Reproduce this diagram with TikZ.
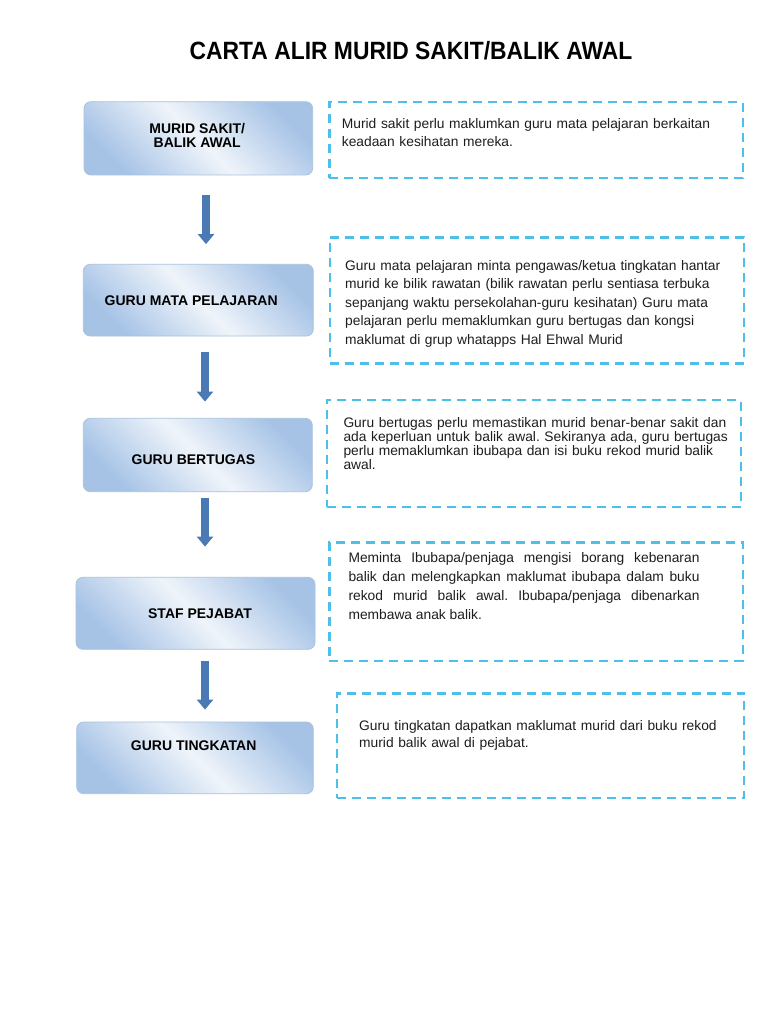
\documentclass[tikz,border=0pt]{standalone}
\usepackage{fontspec}
\usepackage{graphicx}
\setmainfont{Liberation Sans}
\usetikzlibrary{arrows.meta}
\frenchspacing
\definecolor{edgeblue}{HTML}{A6C3E6}
\definecolor{midwhite}{HTML}{EFF4FA}
\definecolor{boxline}{HTML}{A9C2DD}
\definecolor{dashcyan}{HTML}{4EBFEA}
\definecolor{arrowblue}{HTML}{4A7AB4}
\definecolor{bodytext}{HTML}{1E1E1E}
\pgfdeclarehorizontalshading{flowshade}{100bp}{color(0bp)=(edgeblue); color(25bp)=(edgeblue); color(50bp)=(midwhite); color(75bp)=(edgeblue); color(100bp)=(edgeblue)}
\tikzset{
  flowbox/.style={rounded corners=7pt, draw=boxline, line width=0.8pt, shading=flowshade, shading angle=45, inner sep=0pt},
  flowlabel/.style={font=\fontsize{14}{13.5}\selectfont\bfseries, text=black, align=center, inner sep=0pt},
  notebox/.style={draw=dashcyan, line width=2.4pt, dash pattern=on 9pt off 6pt, inner sep=0pt},
  notetext/.style={anchor=base west, inner sep=0pt, text=bodytext, align=left, text width=400pt},
  flowarrow/.style={line width=7.5pt, draw=arrowblue, -{Triangle[width=16pt,length=10pt]}},
}
\begin{document}
\begin{tikzpicture}[x=1pt,y=-1pt]
\fill[white] (0,0) rectangle (768,1024);
\useasboundingbox (0,0) rectangle (768,1024);

\node[anchor=base, inner sep=0pt] (title) at (411,60)
  {\scalebox{0.914}[1]{\fontsize{25}{30}\selectfont\bfseries CARTA ALIR MURID SAKIT/BALIK AWAL}};

% left flow boxes
\node[flowbox, minimum width=228.7pt, minimum height=73.3pt] (b1) at (198.35,138.35) {};
\node[flowbox, minimum width=230pt, minimum height=71.7pt] (b2) at (198.3,300.15) {};
\node[flowbox, minimum width=229pt, minimum height=73.4pt] (b3) at (197.8,455) {};
\node[flowbox, minimum width=239pt, minimum height=72pt] (b4) at (195.5,613.3) {};
\node[flowbox, minimum width=236.6pt, minimum height=71.7pt] (b5) at (195,757.85) {};

\node[flowlabel] (l1) at (197.2,135.3) {MURID SAKIT/\\BALIK AWAL};
\node[flowlabel] (l2) at (191.2,300.8) {GURU MATA PELAJARAN};
\node[flowlabel] (l3) at (193.5,460) {GURU BERTUGAS};
\node[flowlabel] (l4) at (200,613.3) {STAF PEJABAT};
\node[flowlabel] (l5) at (193.7,745.7) {GURU TINGKATAN};

% arrows
\coordinate (ax1) at (206,0);
\coordinate (ax) at (205,0);
\draw[flowarrow, shorten <=19.3pt, shorten >=19.8pt] (b1.south -| ax1) -- (b2.north -| ax1);
\draw[flowarrow, shorten <=16pt, shorten >=16.3pt] (b2.south -| ax) -- (b3.north -| ax);
\draw[flowarrow, shorten <=6.3pt, shorten >=30.3pt] (b3.south -| ax) -- (b4.north -| ax);
\draw[flowarrow, shorten <=11.7pt, shorten >=12pt] (b4.south -| ax) -- (b5.north -| ax);

% dashed note boxes
\node[notebox, minimum width=413.4pt, minimum height=76pt] (d1) at (536,140.3) {};
\node[notebox, minimum width=414pt, minimum height=126pt] (d2) at (537,300.3) {};
\node[notebox, minimum width=414pt, minimum height=106.7pt] (d3) at (533.7,453.35) {};
\node[notebox, minimum width=413.4pt, minimum height=118.7pt] (d4) at (536,601.65) {};
\node[notebox, minimum width=407.3pt, minimum height=104.4pt] (d5) at (540.35,745.5) {};

\node[notetext, font=\fontsize{13.8}{18}\selectfont] (t1) at (341.7,128.5)
  {Murid sakit perlu maklumkan guru mata pelajaran berkaitan\\keadaan kesihatan mereka.};
\node[notetext, font=\fontsize{13.8}{18.4}\selectfont] (t2) at (345,270.5)
  {Guru mata pelajaran minta pengawas/ketua tingkatan hantar\\murid ke bilik rawatan (bilik rawatan perlu sentiasa terbuka\\sepanjang waktu persekolahan-guru kesihatan) Guru mata\\pelajaran perlu memaklumkan guru bertugas dan kongsi\\maklumat di grup whatapps Hal Ehwal Murid};
\node[notetext, font=\fontsize{13.8}{14}\selectfont] (t3) at (343.3,427)
  {Guru bertugas perlu memastikan murid benar-benar sakit dan\\ada keperluan untuk balik awal. Sekiranya ada, guru bertugas\\perlu memaklumkan ibubapa dan isi buku rekod murid balik\\awal.};
\node[notetext, font=\fontsize{13.8}{19}\selectfont, align=justify, text width=351pt] (t4) at (348.3,562)
  {Meminta Ibubapa/penjaga mengisi borang kebenaran\linebreak balik dan melengkapkan maklumat ibubapa dalam buku\linebreak rekod murid balik awal. Ibubapa/penjaga dibenarkan\linebreak membawa anak balik.};
\node[notetext, font=\fontsize{13.8}{17.8}\selectfont] (t5) at (359,730)
  {Guru tingkatan dapatkan maklumat murid dari buku rekod\\murid balik awal di pejabat.};
\end{tikzpicture}
\end{document}
